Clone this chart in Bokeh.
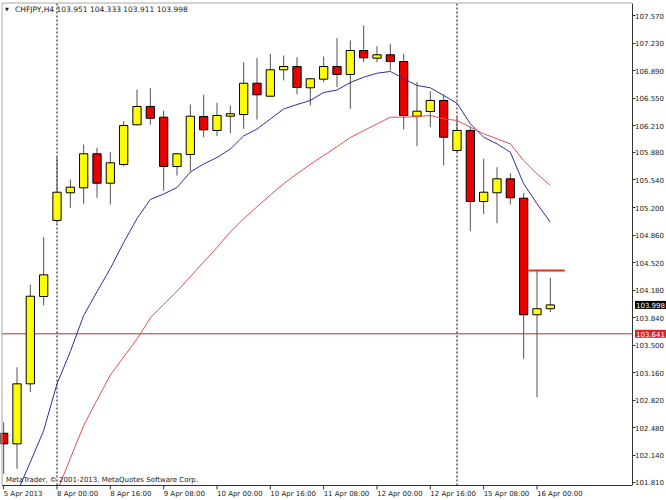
from bokeh.plotting import figure
from bokeh.models import Range1d, FixedTicker, PrintfTickFormatter, Label, ColumnDataSource
from bokeh.core.properties import value
from bokeh.embed import file_html
from bokeh.resources import INLINE

# ---------------- data ----------------
symbol = "CHFJPY,H4"
header_ohlc = "103.951 104.333 103.911 103.998"
copyright_text = "MetaTrader, \u00a9 2001-2013, MetaQuotes Software Corp."

open_ = [102.414, 102.283, 103.024, 104.102, 105.040, 105.382, 105.443, 105.863, 105.500, 105.731,
         106.221, 106.447, 106.315, 105.706, 105.854, 106.323, 106.151, 106.327, 106.348, 106.734,
         106.574, 106.900, 106.940, 106.678, 106.784, 106.940, 106.842, 107.138, 107.043, 107.085,
         107.002, 106.327, 106.385, 106.521, 105.904, 106.151, 105.274, 105.382, 105.554, 105.315,
         103.876, 103.951]
high = [102.550, 103.229, 104.246, 104.834, 105.821, 105.546, 105.978, 105.937, 105.883, 106.265,
        106.657, 106.673, 106.397, 105.868, 106.471, 106.591, 106.492, 106.459, 106.994, 107.048,
        107.097, 107.076, 107.055, 106.795, 107.064, 107.290, 107.261, 107.447, 107.191, 107.221,
        107.097, 106.747, 106.636, 106.595, 106.315, 106.200, 105.801, 105.698, 105.623, 105.377,
        104.422, 104.333]
low = [101.913, 101.975, 102.920, 103.991, 105.006, 105.196, 105.246, 105.320, 105.237, 105.710,
       106.215, 106.221, 105.410, 105.595, 105.648, 106.068, 106.080, 106.117, 106.172, 106.286,
       106.565, 106.768, 106.595, 106.459, 106.747, 106.685, 106.418, 106.994, 106.994, 106.891,
       106.163, 105.957, 106.191, 105.719, 105.883, 104.908, 105.122, 105.006, 105.237, 103.333,
       102.859, 103.911]
close = [102.283, 103.024, 104.105, 104.369, 105.389, 105.451, 105.863, 105.500, 105.752, 106.212,
         106.447, 106.302, 105.706, 105.863, 106.327, 106.159, 106.336, 106.357, 106.734, 106.591,
         106.900, 106.940, 106.681, 106.789, 106.940, 106.842, 107.138, 107.048, 107.085, 107.002,
         106.336, 106.389, 106.521, 106.068, 106.151, 105.274, 105.389, 105.554, 105.320, 103.876,
         103.951, 103.998]

ma_fast = [101.312, 101.682, 102.056, 102.448, 103.024, 103.422, 103.867, 104.162, 104.447, 104.768,
           105.064, 105.299, 105.367, 105.447, 105.638, 105.737, 105.817, 105.922, 106.083, 106.169,
           106.292, 106.416, 106.471, 106.521, 106.620, 106.650, 106.743, 106.808, 106.858, 106.879,
           106.792, 106.706, 106.678, 106.583, 106.488, 106.233, 106.068, 105.986, 105.883, 105.493,
           105.246, 105.019]
ma_slow_start = 3
ma_slow = [101.292, 101.697, 102.102, 102.509, 102.824, 103.133, 103.356, 103.576, 103.839, 104.003,
           104.167, 104.346, 104.526, 104.708, 104.900, 105.061, 105.209, 105.354, 105.493, 105.616,
           105.733, 105.841, 105.951, 106.064, 106.149, 106.231, 106.315, 106.315, 106.323, 106.336,
           106.295, 106.274, 106.191, 106.110, 106.048, 105.986, 105.780, 105.616, 105.472]

time_tick_index = [0, 4, 8, 12, 16, 20, 24, 28, 32, 36, 40]
time_tick_labels = ["5 Apr 2013", "8 Apr 00:00", "8 Apr 16:00", "9 Apr 08:00", "10 Apr 00:00",
                    "10 Apr 16:00", "11 Apr 08:00", "12 Apr 00:00", "12 Apr 16:00", "15 Apr 08:00",
                    "16 Apr 00:00"]
separator_index = [4, 34]
price_ticks = [107.570, 107.230, 106.890, 106.550, 106.210, 105.880, 105.540, 105.200, 104.860,
               104.520, 104.180, 103.840, 103.500, 103.160, 102.820, 102.480, 102.140, 101.810]
bid_price = 103.641
last_price = 103.998
level_price = 104.423
level_from, level_to = 39.35, 42.08

# ---------------- layout (pixel geometry of the MetaTrader window) ----------------
W, H = 666, 500
BAR0_PX, BAR_PX = 3.17, 13.333          # x pixel of bar 0 and bar spacing
P_REF, P_REF_PX, PX_PER_P = 107.570, 15.0, 81.02


def bx(px):
    return (px - BAR0_PX) / BAR_PX


def by(py):
    return P_REF - (py - P_REF_PX) / PX_PER_P


B_LEFT, B_RIGHT, B_TOP, B_BOTTOM = bx(1.5), bx(631.5), by(2.5), by(485.0)
TICK_DOWN = 4.0 / PX_PER_P

FONT = "DejaVu Sans"
TXT = "#1a1a1a"
BULL = "#FFFF00"
BEAR = "#E80000"

idx = list(range(len(open_)))
src = ColumnDataSource(dict(
    x=idx, open=open_, high=high, low=low, close=close,
    top=[max(o, c) for o, c in zip(open_, close)],
    bottom=[min(o, c) for o, c in zip(open_, close)],
    fill=[BULL if c >= o else BEAR for o, c in zip(open_, close)],
))

p = figure(width=W, height=H,
           x_range=Range1d(bx(0), bx(W)), y_range=Range1d(by(H), by(0)),
           x_axis_location=None, y_axis_location="left",
           output_backend="svg", toolbar_location=None, min_border=0)
p.background_fill_color = "white"
p.border_fill_color = "white"
p.outline_line_color = None
p.xgrid.visible = False
p.ygrid.visible = False

# price scale: a real axis fixed on the right border of the chart window
ya = p.yaxis[0]
ya.fixed_location = B_RIGHT
ya.bounds = (B_BOTTOM, B_TOP)
ya.ticker = FixedTicker(ticks=price_ticks, minor_ticks=[])
ya.formatter = PrintfTickFormatter(format="%.3f")
ya.major_label_text_font = FONT
ya.major_label_text_font_size = "7px"
ya.major_label_text_color = TXT
ya.major_tick_out = 0
ya.major_tick_in = 3
ya.major_label_standoff = -32
ya.axis_line_color = "#333333"
ya.major_tick_line_color = "#333333"

# period separators and bid line (behind the candles)
p.segment(x0=separator_index, y0=[B_BOTTOM] * len(separator_index),
          x1=separator_index, y1=[B_TOP] * len(separator_index),
          line_color="black", line_dash="2 2", line_width=1)
p.segment(x0=[B_LEFT], y0=[bid_price], x1=[B_RIGHT], y1=[bid_price],
          line_color="#B03030", line_width=1)

# candles
p.segment(x0="x", y0="low", x1="x", y1="high", source=src, line_color="#505050", line_width=1)
p.vbar(x="x", width=0.62, top="top", bottom="bottom", source=src,
       fill_color="fill", line_color="black", line_width=1)

# moving averages
p.line(idx, ma_fast, line_color="#2E2E9E", line_width=1)
p.line(idx[ma_slow_start:], ma_slow, line_color="#E05050", line_width=1)

# level line
p.segment(x0=[level_from], y0=[level_price], x1=[level_to], y1=[level_price],
          line_color="#E0301E", line_width=2)

# blank strip under the chart window (time scale area)
p.quad(left=[bx(0)], right=[bx(W)], bottom=[by(H)], top=[B_BOTTOM],
       fill_color="white", line_color=None)

# chart window border
p.segment(x0=[B_LEFT, B_LEFT], y0=[B_TOP, B_BOTTOM], x1=[B_RIGHT, B_LEFT], y1=[B_TOP, B_TOP],
          line_color="#a8a8a8", line_width=1)
p.segment(x0=[B_LEFT], y0=[B_BOTTOM], x1=[B_RIGHT], y1=[B_BOTTOM],
          line_color="#333333", line_width=1)

# time scale: tick marks and left-aligned labels
p.segment(x0=time_tick_index, y0=[B_BOTTOM] * len(time_tick_index),
          x1=time_tick_index, y1=[B_BOTTOM - TICK_DOWN] * len(time_tick_index),
          line_color="#333333", line_width=1)
p.text(x=time_tick_index, y=[B_BOTTOM] * len(time_tick_index), text=time_tick_labels,
       y_offset=8, text_align="left", text_baseline="middle",
       text_font=value(FONT), text_font_size="7px", text_color=TXT)

# header
p.add_layout(Label(x=B_LEFT, y=B_TOP, x_offset=3, y_offset=-6, text="\u25bc", text_font=FONT,
                   text_font_size="5px", text_color=TXT, text_baseline="middle"))
p.add_layout(Label(x=B_LEFT, y=B_TOP, x_offset=13, y_offset=-6, text=symbol + "  " + header_ohlc,
                   text_font=FONT, text_font_size="7.5px", text_color=TXT, text_baseline="middle"))
# copyright
p.add_layout(Label(x=B_LEFT, y=B_BOTTOM, x_offset=4, y_offset=6, text=copyright_text,
                   text_font=FONT, text_font_size="7px", text_color=TXT, text_baseline="middle"))
# price tags on the scale
p.add_layout(Label(x=B_RIGHT, y=last_price, x_offset=3, text="%.3f" % last_price, text_font=FONT,
                   text_font_size="7px", text_color="white", text_baseline="middle",
                   background_fill_color="black", padding=1))
p.add_layout(Label(x=B_RIGHT, y=bid_price, x_offset=3, text="%.3f" % bid_price, text_font=FONT,
                   text_font_size="7px", text_color="white", text_baseline="middle",
                   background_fill_color="#E02020", padding=1))

open("out.html", "w").write(file_html(p, INLINE))
